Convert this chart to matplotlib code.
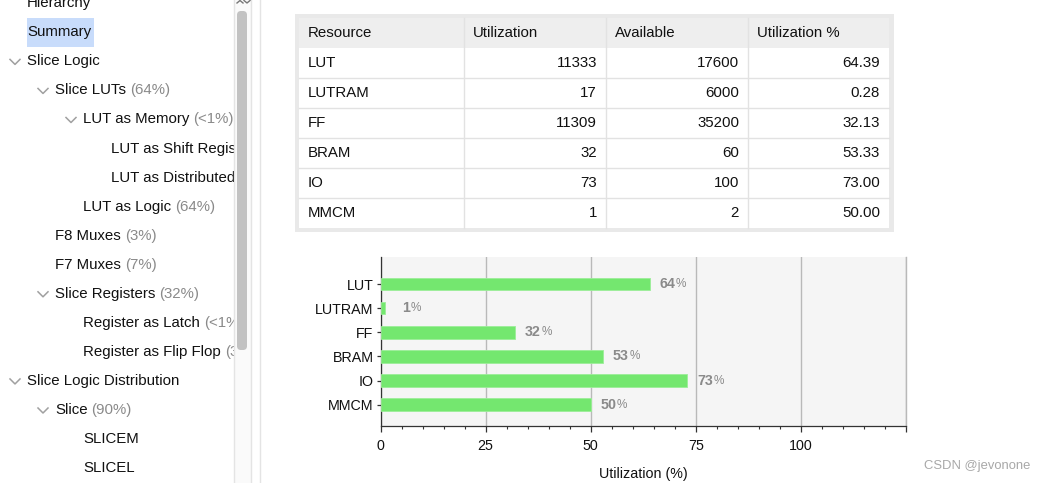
import matplotlib
matplotlib.use("Agg")
import matplotlib.pyplot as plt
from matplotlib.patches import Rectangle, FancyBboxPatch

plt.rcParams['font.family'] = ['Liberation Sans', 'DejaVu Sans']

# tree on the left: label, percent text, indent level, has arrow
tree_labels = ["Hierarchy", "Summary", "Slice Logic", "Slice LUTs", "LUT as Memory",
               "LUT as Shift Regis", "LUT as Distributed", "LUT as Logic", "F8 Muxes",
               "F7 Muxes", "Slice Registers", "Register as Latch", "Register as Flip Flop",
               "Slice Logic Distribution", "Slice", "SLICEM", "SLICEL"]
tree_pcts = ["", "", "", "(64%)", "(<1%)", "", "", "(64%)", "(3%)", "(7%)", "(32%)",
             "(<1%", "(3", "", "(90%)", "", ""]
tree_levels = [0, 0, 0, 1, 2, 3, 3, 2, 1, 1, 1, 2, 2, 0, 1, 2, 2]
tree_arrows = [0, 0, 1, 1, 1, 0, 0, 0, 0, 0, 1, 0, 0, 1, 1, 0, 0]

# table
columns = ["Resource", "Utilization", "Available", "Utilization %"]
resources = ["LUT", "LUTRAM", "FF", "BRAM", "IO", "MMCM"]
utilization = [11333, 17, 11309, 32, 73, 1]
available = [17600, 6000, 35200, 60, 100, 2]
util_pct = ["64.39", "0.28", "32.13", "53.33", "73.00", "50.00"]

# bar chart
bar_values = [64, 1, 32, 53, 73, 50]

W, H = 1045, 483
fig = plt.figure(figsize=(W / 100, H / 100), dpi=100)

# background layer in pixel coordinates for tree and table
bg = fig.add_axes([0, 0, 1, 1])
bg.set_xlim(0, W)
bg.set_ylim(H, 0)
bg.axis("off")

FS = 10.85
CHART_FS = 10.3
GREY = "#8a8a8a"

# tree
renderer = fig.canvas.get_renderer()
bg.add_patch(Rectangle((27, 18), 67, 29, fc="#c8dcfb", ec="none"))
for i, label in enumerate(tree_labels):
    y = 3.3 + i * 29.05
    x = 27 + tree_levels[i] * 28
    t = bg.text(x, y, label, fontsize=FS, color="#111111", va="center", ha="left", clip_on=True)
    if tree_pcts[i]:
        bb = t.get_window_extent(renderer)
        bg.text(bb.x1 + 4, y, tree_pcts[i], fontsize=FS, color=GREY, va="center", ha="left")
    if tree_arrows[i]:
        bg.plot([x - 17, x - 12, x - 7], [y - 2, y + 3, y - 2], color="#a0a0a0", lw=1.1)

# scrollbar and panel edges
bg.add_patch(Rectangle((233.5, 0), 17, H, fc="#fafafa", ec="none", zorder=3))
bg.plot([233.5, 233.5], [0, H], color="#e4e4e4", lw=1, zorder=4)
bg.plot([250.5, 250.5], [0, H], color="#e4e4e4", lw=1, zorder=4)
bg.plot([259.5, 259.5], [0, H], color="#e4e4e4", lw=1, zorder=4)
bg.add_patch(FancyBboxPatch((237, 11), 10, 339, boxstyle="round,pad=0,rounding_size=4",
                            fc="#c2c2c2", ec="none", zorder=4))
bg.plot([237, 240, 243], [3, 0.5, 3], color="#777777", lw=1, zorder=5)
bg.plot([244, 247, 250], [0.5, 3, 0.5], color="#777777", lw=1, zorder=5)

# table
col_edges = [299, 464, 606, 748, 889]
head_top, head_bot, row_h = 18, 48, 30
bg.add_patch(Rectangle((295, 14), 599, 218, fc="#e9e9e9", ec="none"))
bg.add_patch(Rectangle((299, 18), 590, 210, fc="white", ec="none"))
bg.add_patch(Rectangle((299, 18), 590, 30, fc="#eeeeee", ec="none"))
for x in col_edges[1:-1]:
    bg.plot([x, x], [18, 228], color="#e2e2e2", lw=1)
for r in range(1, len(resources)):
    y = head_bot + r * row_h - 0.5
    bg.plot([299, 889], [y, y], color="#e2e2e2", lw=1)
for j, name in enumerate(columns):
    bg.text(col_edges[j] + 9, 33, name, fontsize=FS, color="#111111", va="center", ha="left")
for r, res in enumerate(resources):
    y = head_bot + r * row_h + 15
    bg.text(col_edges[0] + 9, y, res, fontsize=FS, color="#111111", va="center", ha="left")
    row = [utilization[r], available[r], util_pct[r]]
    for j, v in enumerate(row):
        bg.text(col_edges[j + 2] - 9, y, str(v), fontsize=FS, color="#111111", va="center", ha="right")

# bar chart
ax = fig.add_axes([380.5 / W, 1 - 426 / H, (906 - 380.5) / W, (426 - 257) / H])
ax.set_facecolor("#f5f5f5")
ypos = list(range(len(resources)))
ax.barh(ypos, bar_values, height=0.52, color="#74e76f", edgecolor="#9cee98", linewidth=0.6, zorder=3)
ax.set_xlim(0, 125)
ax.set_ylim(5.88, -1.12)
ax.set_yticks(ypos)
ax.set_yticklabels(resources, fontsize=CHART_FS, color="#111111")
ax.set_xticks([0, 25, 50, 75, 100, 125])
ax.set_xticklabels(["0", "25", "50", "75", "100", ""], fontsize=CHART_FS, color="#111111")
ax.set_xticks([v for v in range(0, 125, 5) if v % 25], minor=True)
ax.tick_params(axis="x", which="major", length=4, width=0.9, color="#333333", pad=5)
ax.tick_params(axis="x", which="minor", length=2, width=0.8, color="#333333")
ax.tick_params(axis="y", length=3, width=0.9, color="#333333", pad=2)
ax.grid(axis="x", color="#b9b9b9", lw=1, zorder=1)
ax.set_axisbelow(True)
for side in ["top", "right"]:
    ax.spines[side].set_visible(False)
for side in ["left", "bottom"]:
    ax.spines[side].set_color("#333333")
    ax.spines[side].set_linewidth(0.9)
ax.plot([1, 1], [0, 1], transform=ax.transAxes, color="#b9b9b9", lw=1, clip_on=False, zorder=2)
ax.set_xlabel("Utilization (%)", fontsize=CHART_FS, color="#111111")
ax.xaxis.set_label_coords((643.5 - 380.5) / (906 - 380.5), -0.24)

for y, v in zip(ypos, bar_values):
    # labels sit in a fixed-width box, so one-digit values start further right
    off = 7 if v >= 10 else 12.5
    t = ax.annotate(str(v), (v, y), xytext=(off, 0), textcoords="offset points", fontsize=CHART_FS,
                    fontweight="bold", color=GREY, va="center", ha="left", zorder=5)
    ax.annotate("%", (1, 0.5), xycoords=t, xytext=(0.5, 0), textcoords="offset points",
                fontsize=8.5, color=GREY, va="center", ha="left", zorder=5)

# watermark
bg.text(1030, 466, "CSDN @jevonone", fontsize=9.4, color="#a8a8a8", va="center", ha="right")

fig.savefig("out.png", dpi=100)
